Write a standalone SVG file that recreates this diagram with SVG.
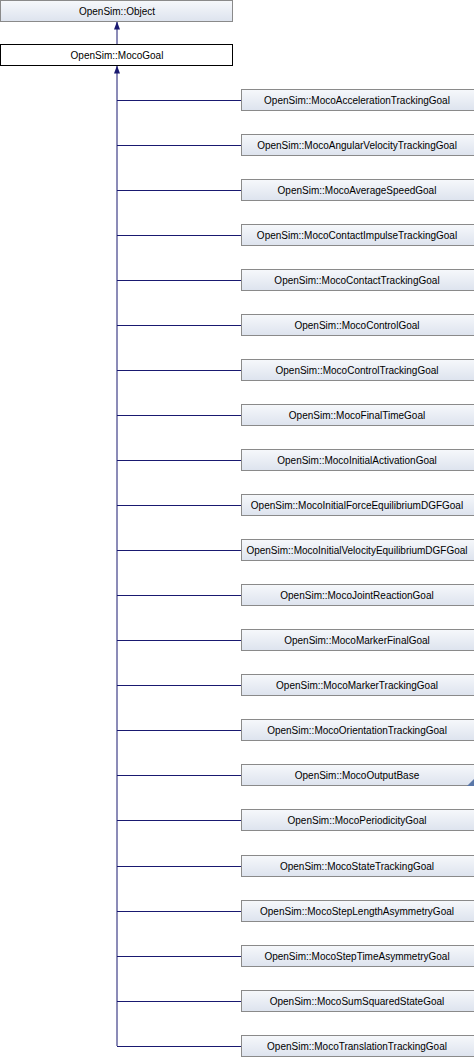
<svg xmlns="http://www.w3.org/2000/svg" width="474" height="1057" viewBox="0 0 474 1057">
<defs>
<linearGradient id="g" x1="0" y1="0" x2="0" y2="1">
<stop offset="0" stop-color="#f6f8fb"/>
<stop offset="1" stop-color="#dde3ee"/>
</linearGradient>
<marker id="arr" viewBox="0 0 8 8" refX="7.5" refY="4" markerWidth="8" markerHeight="8" markerUnits="userSpaceOnUse" orient="auto">
<path d="M0,1 L8,4 L0,7 Z" fill="#191970"/>
</marker>
</defs>
<style>
.box{fill:url(#g);stroke:#8a8a8a;stroke-width:1}
.cur{fill:#ffffff;stroke:#000000;stroke-width:1}
text{font-family:"Liberation Sans",Arial,sans-serif;font-size:10px;fill:#000;text-anchor:middle;dominant-baseline:central}
.ln{stroke:#191970;stroke-width:1;fill:none}
</style>
<g id="connectors">
<line class="ln" x1="117" y1="44" x2="117" y2="22" marker-end="url(#arr)"/>
<path class="ln" d="M117,1046 L117,66" marker-end="url(#arr)"/>
<path class="ln" d="M117,100.5H241 M117,145.5H241 M117,190.5H241 M117,235.5H241 M117,280.5H241 M117,325.5H241 M117,370.5H241 M117,415.5H241 M117,460.5H241 M117,505.5H241 M117,550.5H241 M117,595.5H241 M117,640.5H241 M117,685.5H241 M117,730.5H241 M117,775.5H241 M117,820.5H241 M117,866.5H241 M117,911.5H241 M117,956.5H241 M117,1001.5H241 M117,1046.5H241"/>
</g>
<g id="Object"><rect class="box" x="0.5" y="0.5" width="232" height="21"/><text x="117" y="11">OpenSim::Object</text></g>
<g id="MocoGoal"><rect class="cur" x="0.5" y="44.5" width="232" height="21"/><text x="117" y="55">OpenSim::MocoGoal</text></g>
<g id="c1"><rect class="box" x="241.5" y="89.5" width="240" height="21"/><text x="357" y="100">OpenSim::MocoAccelerationTrackingGoal</text></g>
<g id="c2"><rect class="box" x="241.5" y="134.5" width="240" height="21"/><text x="357" y="145">OpenSim::MocoAngularVelocityTrackingGoal</text></g>
<g id="c3"><rect class="box" x="241.5" y="179.5" width="240" height="21"/><text x="357" y="190">OpenSim::MocoAverageSpeedGoal</text></g>
<g id="c4"><rect class="box" x="241.5" y="224.5" width="240" height="21"/><text x="357" y="235">OpenSim::MocoContactImpulseTrackingGoal</text></g>
<g id="c5"><rect class="box" x="241.5" y="269.5" width="240" height="21"/><text x="357" y="280">OpenSim::MocoContactTrackingGoal</text></g>
<g id="c6"><rect class="box" x="241.5" y="314.5" width="240" height="21"/><text x="357" y="325">OpenSim::MocoControlGoal</text></g>
<g id="c7"><rect class="box" x="241.5" y="359.5" width="240" height="21"/><text x="357" y="370">OpenSim::MocoControlTrackingGoal</text></g>
<g id="c8"><rect class="box" x="241.5" y="404.5" width="240" height="21"/><text x="357" y="415">OpenSim::MocoFinalTimeGoal</text></g>
<g id="c9"><rect class="box" x="241.5" y="449.5" width="240" height="21"/><text x="357" y="460">OpenSim::MocoInitialActivationGoal</text></g>
<g id="c10"><rect class="box" x="241.5" y="494.5" width="240" height="21"/><text x="357" y="505">OpenSim::MocoInitialForceEquilibriumDGFGoal</text></g>
<g id="c11"><rect class="box" x="241.5" y="539.5" width="240" height="21"/><text x="357" y="550">OpenSim::MocoInitialVelocityEquilibriumDGFGoal</text></g>
<g id="c12"><rect class="box" x="241.5" y="584.5" width="240" height="21"/><text x="357" y="595">OpenSim::MocoJointReactionGoal</text></g>
<g id="c13"><rect class="box" x="241.5" y="629.5" width="240" height="21"/><text x="357" y="640">OpenSim::MocoMarkerFinalGoal</text></g>
<g id="c14"><rect class="box" x="241.5" y="674.5" width="240" height="21"/><text x="357" y="685">OpenSim::MocoMarkerTrackingGoal</text></g>
<g id="c15"><rect class="box" x="241.5" y="719.5" width="240" height="21"/><text x="357" y="730">OpenSim::MocoOrientationTrackingGoal</text></g>
<g id="c16"><rect class="box" x="241.5" y="764.5" width="240" height="21"/><text x="357" y="775">OpenSim::MocoOutputBase</text><polygon points="474,779 474,786 467,786" fill="#5a77a8"/></g>
<g id="c17"><rect class="box" x="241.5" y="809.5" width="240" height="21"/><text x="357" y="820">OpenSim::MocoPeriodicityGoal</text></g>
<g id="c18"><rect class="box" x="241.5" y="855.5" width="240" height="21"/><text x="357" y="866">OpenSim::MocoStateTrackingGoal</text></g>
<g id="c19"><rect class="box" x="241.5" y="900.5" width="240" height="21"/><text x="357" y="911">OpenSim::MocoStepLengthAsymmetryGoal</text></g>
<g id="c20"><rect class="box" x="241.5" y="945.5" width="240" height="21"/><text x="357" y="956">OpenSim::MocoStepTimeAsymmetryGoal</text></g>
<g id="c21"><rect class="box" x="241.5" y="990.5" width="240" height="21"/><text x="357" y="1001">OpenSim::MocoSumSquaredStateGoal</text></g>
<g id="c22"><rect class="box" x="241.5" y="1035.5" width="240" height="21"/><text x="357" y="1046">OpenSim::MocoTranslationTrackingGoal</text></g>
</svg>
